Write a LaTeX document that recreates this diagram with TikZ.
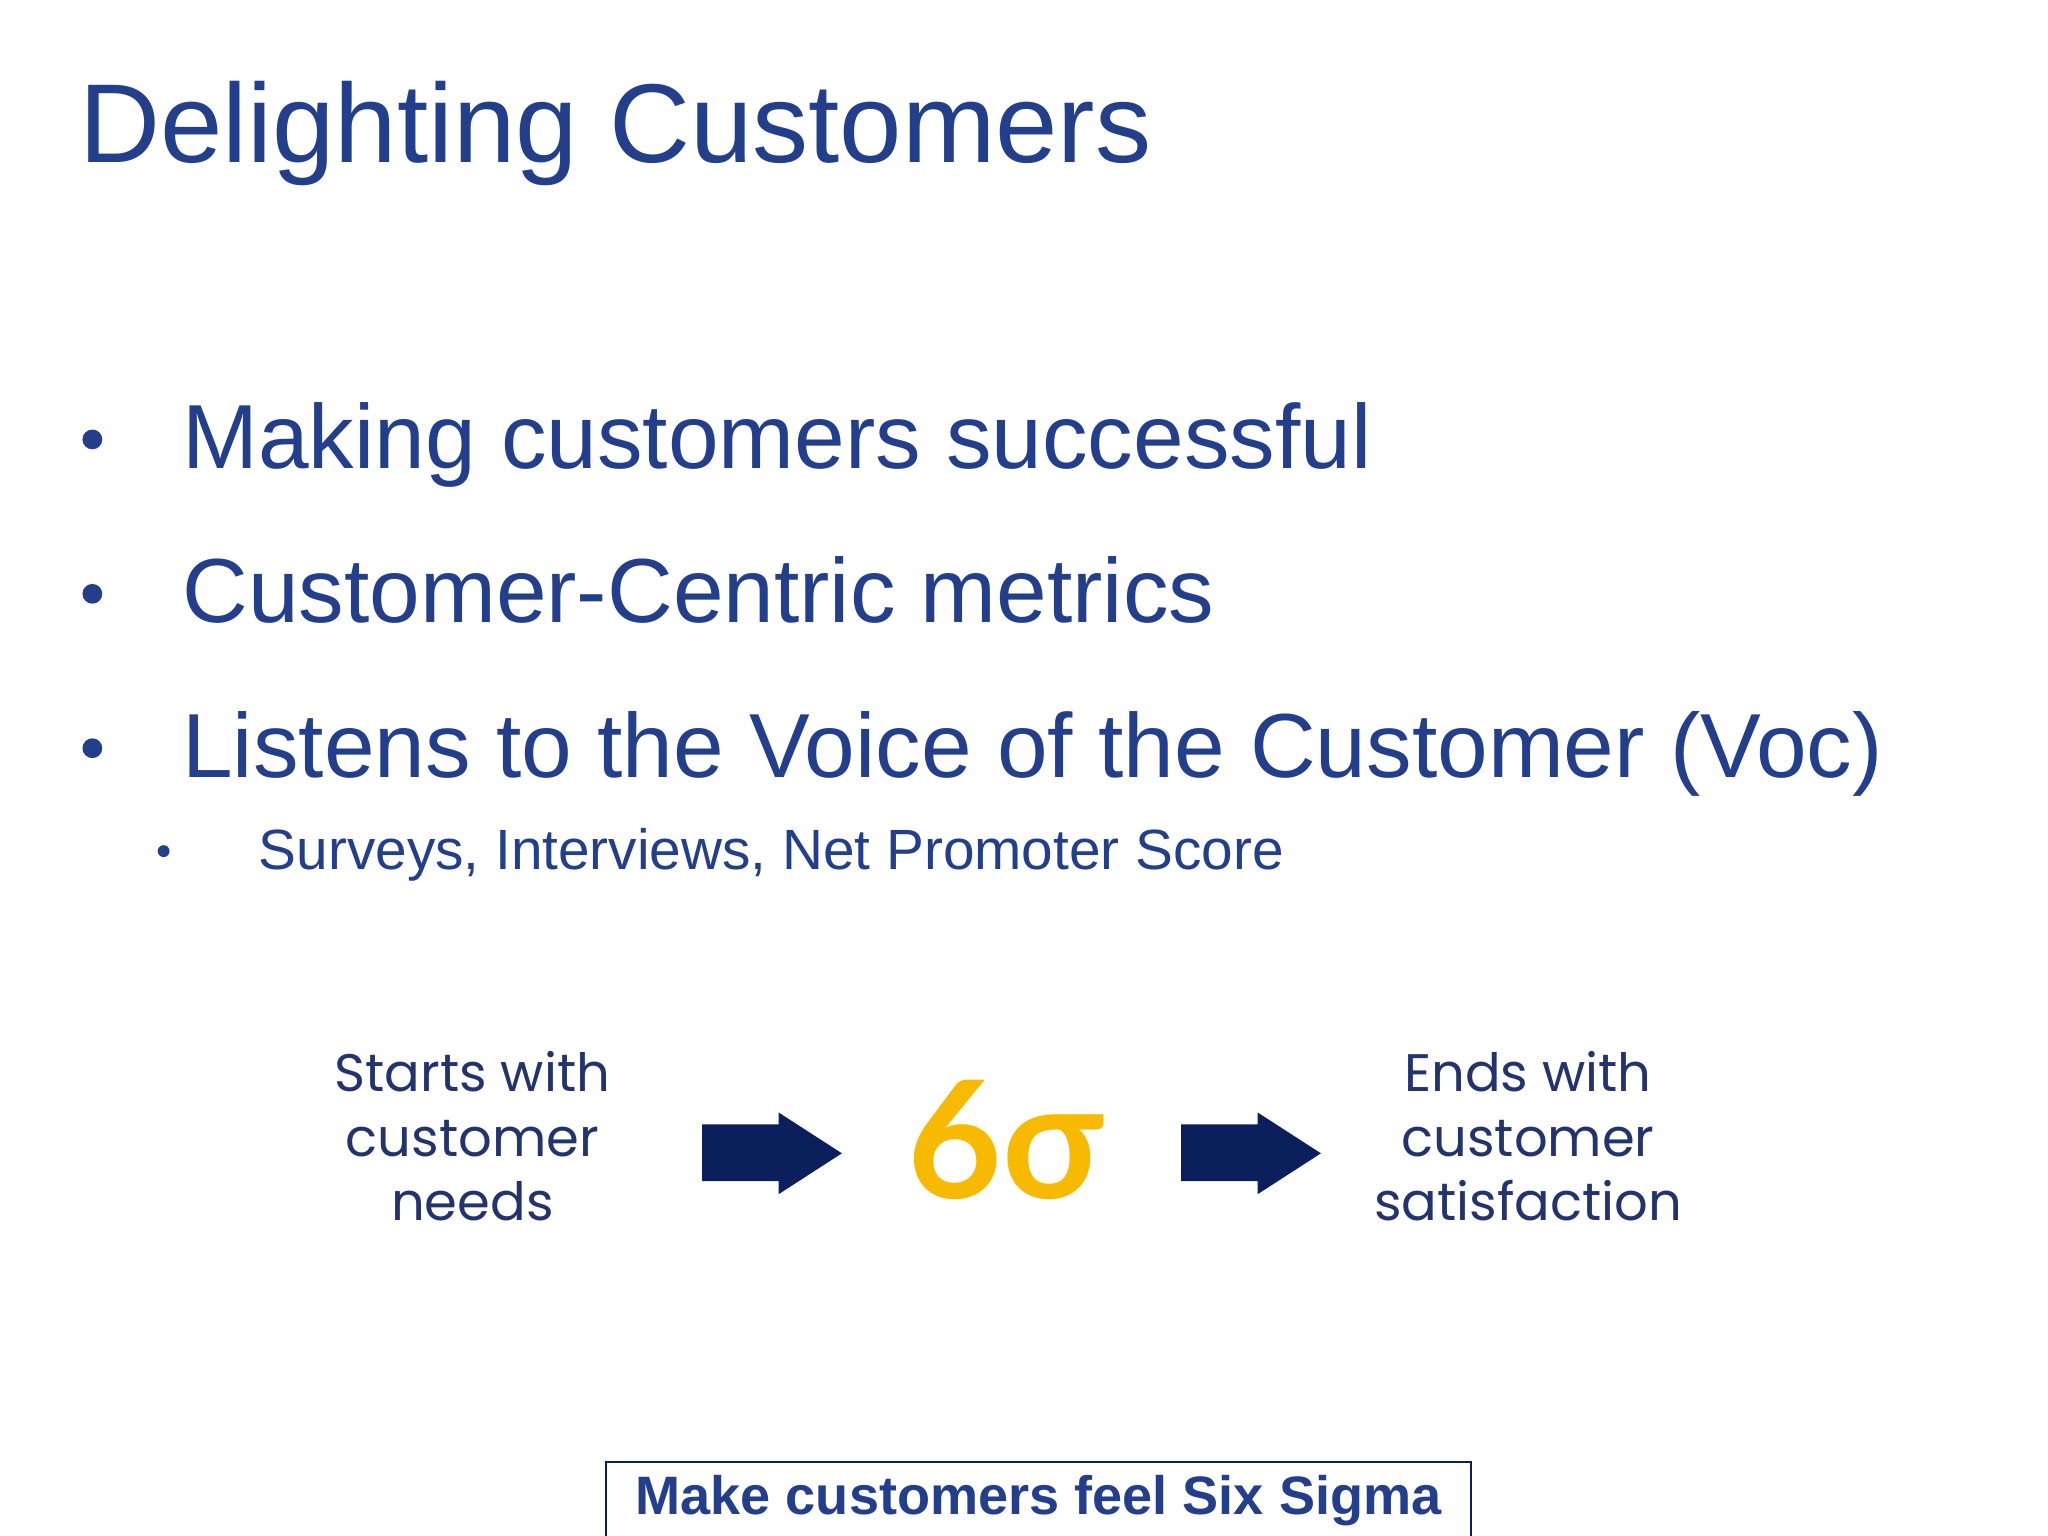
\documentclass[tikz,border=0pt]{standalone}
\usepackage{fontspec}
\setmainfont{Liberation Sans}
\newfontfamily\geo{Lato}
\newfontfamily\pop{Poppins}
\definecolor{ttl}{HTML}{233F8C}
\definecolor{navy}{HTML}{0B1F5C}
\definecolor{txt}{HTML}{22336E}
\definecolor{gold}{HTML}{F7BA00}
\begin{document}
\begin{tikzpicture}[x=1pt,y=-1pt,
  bul/.style={anchor=base west,text=ttl,font=\fontsize{69}{72}\selectfont,inner sep=0},
  dot/.style={circle,fill=ttl,inner sep=0,minimum size=15pt},
  flow/.style={align=center,text=txt,font=\pop\fontsize{40}{49}\selectfont},
  blk/.style={fill=navy}]
\useasboundingbox (0,0) rectangle (1552,1164);
\node[bul,font=\fontsize{85}{90}\selectfont] (title) at (60,123) {Delighting Customers};
\node[dot] (d1) at (70,333) {};
\node[bul] (b1) at (138,355) {Making customers successful};
\node[dot] (d2) at (70,450) {};
\node[bul] (b2) at (138,472) {Customer-Centric metrics};
\node[dot] (d3) at (70,567) {};
\node[bul] (b3) at (138,589) {Listens to the Voice of the Customer (Voc)};
\node[dot,minimum size=9pt] (d4) at (124,645) {};
\node[bul,font=\fontsize{43}{46}\selectfont] (b4) at (196,659) {Surveys, Interviews, Net Promoter Score};
\node[flow] (start) at (358,861) {Starts with\\customer\\needs};
\fill[blk] (532,852) -- (590,852) -- (590,843) -- (638,874) -- (590,905) -- (590,895) -- (532,895) -- cycle;
\node[text=gold,font=\geo\bfseries\fontsize{124}{124}\selectfont,inner sep=0] (six) at (762,864) {6σ};
\fill[blk] (895,852) -- (953,852) -- (953,843) -- (1001,874) -- (953,905) -- (953,895) -- (895,895) -- cycle;
\node[flow] (end) at (1158,861) {Ends with\\customer\\satisfaction};
\node[draw=navy,line width=1.5pt,text=ttl,font=\bfseries\fontsize{41}{42}\selectfont,minimum width=656pt,minimum height=62pt,inner sep=0pt] (box) at (787,1139) {\strut Make customers feel Six Sigma};
\end{tikzpicture}
\end{document}
